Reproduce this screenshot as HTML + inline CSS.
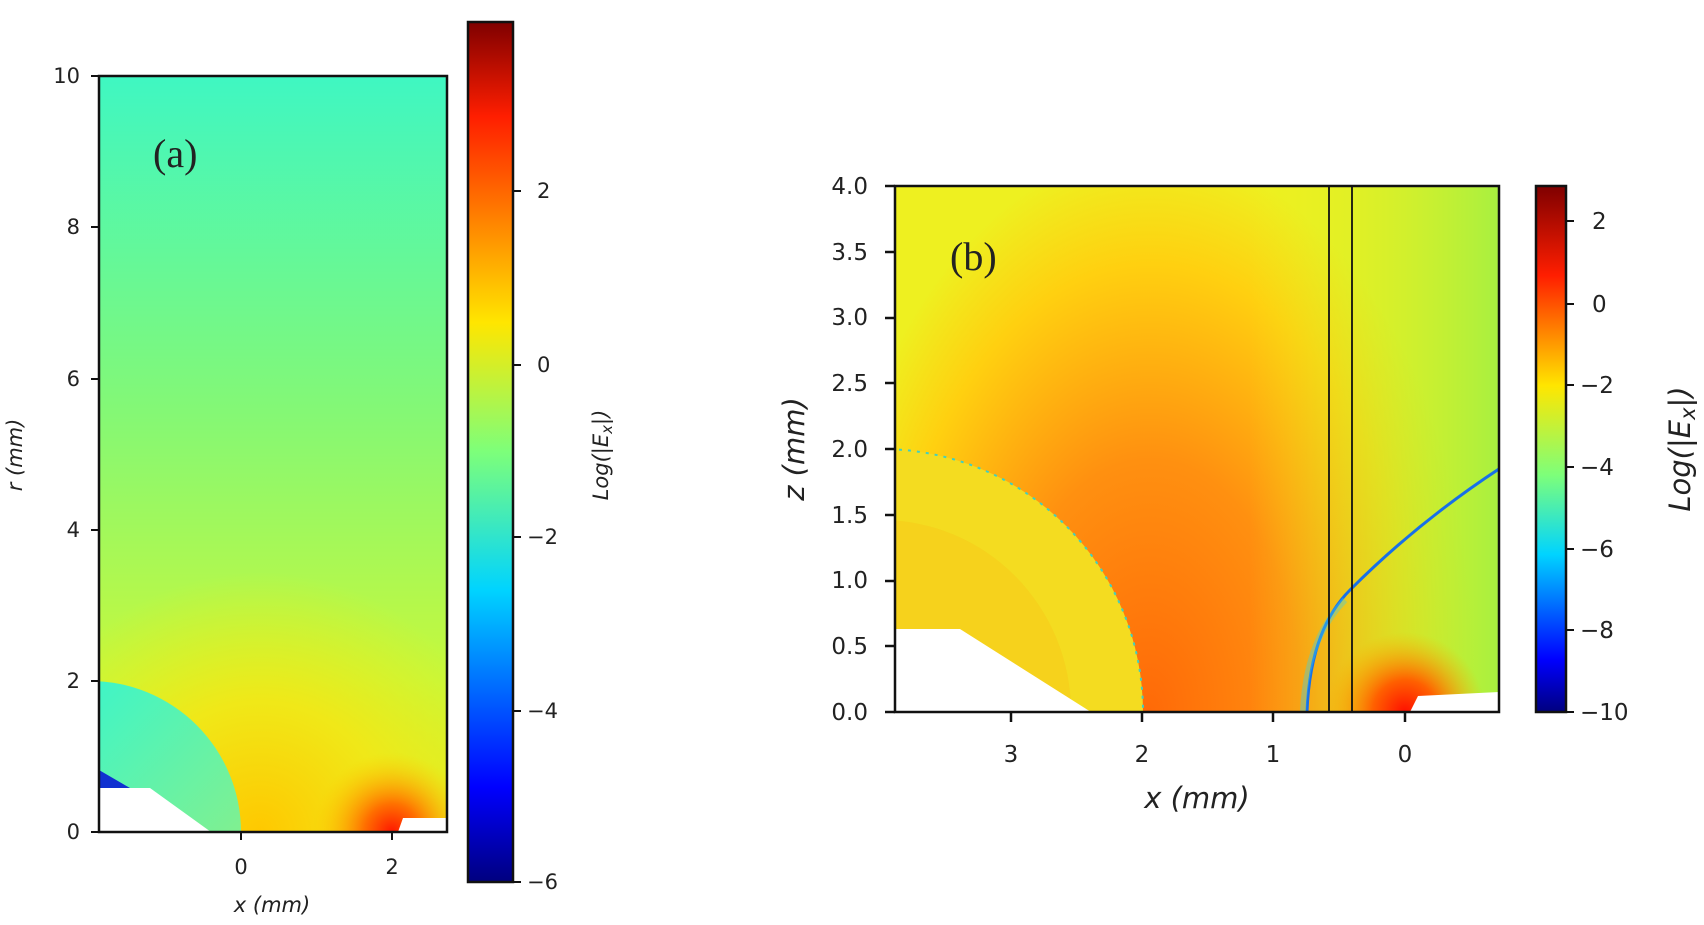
<!DOCTYPE html>
<html><head><meta charset="utf-8"><style>
body{margin:0;background:#fff}
svg text{font-family:"DejaVu Sans","Liberation Sans",sans-serif;fill:#222}
</style></head><body>
<svg width="1704" height="920" viewBox="0 0 1704 920" xmlns="http://www.w3.org/2000/svg">
<defs>
<linearGradient id="jetA" x1="0" y1="1" x2="0" y2="0">
<stop offset="0" stop-color="#00007f"/><stop offset="0.11" stop-color="#0000ff"/><stop offset="0.34" stop-color="#00d4ff"/><stop offset="0.5" stop-color="#7dff7a"/><stop offset="0.65" stop-color="#ffe600"/><stop offset="0.89" stop-color="#ff1e00"/><stop offset="1" stop-color="#7f0000"/>
</linearGradient>
<linearGradient id="bgA" x1="0" y1="0" x2="0" y2="1">
<stop offset="0" stop-color="#3ff7c2"/><stop offset="0.45" stop-color="#85f874"/><stop offset="0.8" stop-color="#c8f83a"/><stop offset="1" stop-color="#f0e818"/>
</linearGradient>
<radialGradient id="redA" cx="392" cy="832" r="80" gradientUnits="userSpaceOnUse">
<stop offset="0" stop-color="#ff1800"/><stop offset="0.35" stop-color="#ff7000"/><stop offset="1" stop-color="#ffd000" stop-opacity="0"/>
</radialGradient>
<radialGradient id="yelA" cx="260" cy="832" r="260" gradientUnits="userSpaceOnUse">
<stop offset="0" stop-color="#ffc800"/><stop offset="0.5" stop-color="#f0e818"/><stop offset="1" stop-color="#e0f020" stop-opacity="0"/>
</radialGradient>
<linearGradient id="qA" x1="0" y1="0" x2="1" y2="1">
<stop offset="0" stop-color="#3ef5c8"/><stop offset="1" stop-color="#80f090"/>
</linearGradient>
<radialGradient id="bgB" cx="1150" cy="712" r="560" gradientTransform="translate(1150 712) scale(0.6 1) translate(-1150 -712)" gradientUnits="userSpaceOnUse">
<stop offset="0" stop-color="#ff6a08"/><stop offset="0.45" stop-color="#ff9010"/><stop offset="0.8" stop-color="#ffd010"/><stop offset="1" stop-color="#eef020"/>
</radialGradient>
<linearGradient id="rightB" x1="0" y1="0" x2="1" y2="0">
<stop offset="0" stop-color="#e8f020" stop-opacity="0"/><stop offset="1" stop-color="#a8f040"/>
</linearGradient>
<radialGradient id="redB" cx="1405" cy="712" r="80" gradientUnits="userSpaceOnUse">
<stop offset="0" stop-color="#ff1000"/><stop offset="0.4" stop-color="#ff6000"/><stop offset="1" stop-color="#ffb000" stop-opacity="0"/>
</radialGradient>
<linearGradient id="jetB" x1="0" y1="1" x2="0" y2="0">
<stop offset="0" stop-color="#00007f"/><stop offset="0.1" stop-color="#0000ff"/><stop offset="0.3" stop-color="#00d4ff"/><stop offset="0.45" stop-color="#7dff7a"/><stop offset="0.62" stop-color="#ffe600"/><stop offset="0.83" stop-color="#ff1e00"/><stop offset="1" stop-color="#7f0000"/>
</linearGradient>
<clipPath id="cA"><rect x="99" y="76" width="348" height="756"/></clipPath>
<clipPath id="cB"><rect x="895" y="186" width="604" height="526"/></clipPath>
</defs>

<!-- Panel A -->
<g clip-path="url(#cA)">
<rect x="99" y="76" width="348" height="756" fill="url(#bgA)"/>
<rect x="99" y="500" width="348" height="332" fill="url(#yelA)"/>
<rect x="99" y="700" width="348" height="132" fill="url(#redA)"/>
<path d="M90,832 L90,681 A151,151 0 0 1 241,832 Z" fill="url(#qA)"/>
<path d="M99,770 L130,788 L99,788 Z" fill="#1030d0"/>
<path d="M99,788 L150,788 L211,832 L99,832 Z" fill="#fff"/>
<path d="M398,832 L403,818 L447,818 L447,832 Z" fill="#fff"/>
</g>
<rect x="99" y="76" width="348" height="756" fill="none" stroke="#111" stroke-width="2.5"/>
<text x="153" y="167" style="font-family:'Liberation Serif',serif" font-size="40">(a)</text>
<g font-size="21" text-anchor="end">
<text x="80" y="83">10</text><text x="80" y="234">8</text><text x="80" y="386">6</text><text x="80" y="537">4</text><text x="80" y="688">2</text><text x="80" y="839">0</text>
</g>
<g stroke="#111" stroke-width="2">
<line x1="91" y1="76" x2="99" y2="76"/><line x1="91" y1="227" x2="99" y2="227"/><line x1="91" y1="379" x2="99" y2="379"/><line x1="91" y1="530" x2="99" y2="530"/><line x1="91" y1="681" x2="99" y2="681"/><line x1="91" y1="832" x2="99" y2="832"/>
<line x1="241" y1="832" x2="241" y2="840"/><line x1="392" y1="832" x2="392" y2="840"/>
</g>
<text x="241" y="874" font-size="21" text-anchor="middle">0</text>
<text x="392" y="874" font-size="21" text-anchor="middle">2</text>
<text x="272" y="912" font-size="21" text-anchor="middle" font-style="italic">x (mm)</text>
<text transform="translate(22,455) rotate(-90)" font-size="21" text-anchor="middle" font-style="italic">r (mm)</text>
<rect x="468" y="22" width="45" height="860" fill="url(#jetA)" stroke="#111" stroke-width="2.5"/>
<g stroke="#111" stroke-width="2"><line x1="513" y1="191" x2="521" y2="191"/><line x1="513" y1="365" x2="521" y2="365"/><line x1="513" y1="537" x2="521" y2="537"/><line x1="513" y1="711" x2="521" y2="711"/><line x1="513" y1="882" x2="521" y2="882"/></g>
<g font-size="21"><text x="537" y="198">2</text><text x="537" y="372">0</text><text x="527" y="544">−2</text><text x="527" y="718">−4</text><text x="527" y="889">−6</text></g>
<text transform="translate(608,455) rotate(-90)" font-size="21" text-anchor="middle" font-style="italic">Log(|E<tspan font-size="15" dy="4">x</tspan><tspan dy="-4">|)</tspan></text>

<!-- Panel B -->
<g clip-path="url(#cB)">
<rect x="895" y="186" width="604" height="526" fill="url(#bgB)"/>
<rect x="1250" y="186" width="249" height="526" fill="url(#rightB)"/>
<rect x="1320" y="630" width="179" height="82" fill="url(#redB)"/>
<path d="M881,712 L881,449 A262,263 0 0 1 1143,712 Z" fill="#f4dc20"/>
<path d="M881,712 L881,520 A190,192 0 0 1 1071,712 Z" fill="#f8c818" opacity="0.5"/>
<path d="M881,449 A262,263 0 0 1 1143,712" fill="none" stroke="#40d0c0" stroke-width="2" stroke-dasharray="3 6"/>
<path d="M1307,712 Q1310,630 1350,590 Q1420,520 1505,465" fill="none" stroke="#1870e8" stroke-width="3"/>
<path d="M1303,712 Q1306,640 1345,600" fill="none" stroke="#40d0e0" stroke-width="6" opacity="0.4"/>
<path d="M895,652 Q910,655 915,678" fill="none" stroke="#2080e0" stroke-width="3"/>
<path d="M895,629 L960,629 L1091,712 L895,712 Z" fill="#fff"/>
<path d="M1410,712 L1418,696 L1499,692 L1499,712 Z" fill="#fff"/>
<line x1="1329" y1="186" x2="1329" y2="712" stroke="#111" stroke-width="1.8"/>
<line x1="1352" y1="186" x2="1352" y2="712" stroke="#111" stroke-width="1.8"/>
</g>
<rect x="895" y="186" width="604" height="526" fill="none" stroke="#111" stroke-width="2.5"/>
<text x="950" y="270" style="font-family:'Liberation Serif',serif" font-size="40">(b)</text>
<g font-size="23" text-anchor="end">
<text x="868" y="194">4.0</text><text x="868" y="260">3.5</text><text x="868" y="325">3.0</text><text x="868" y="391">2.5</text><text x="868" y="457">2.0</text><text x="868" y="523">1.5</text><text x="868" y="588">1.0</text><text x="868" y="654">0.5</text><text x="868" y="720">0.0</text>
</g>
<g stroke="#111" stroke-width="2.5">
<line x1="885" y1="186" x2="895" y2="186"/><line x1="885" y1="252" x2="895" y2="252"/><line x1="885" y1="318" x2="895" y2="318"/><line x1="885" y1="383" x2="895" y2="383"/><line x1="885" y1="449" x2="895" y2="449"/><line x1="885" y1="515" x2="895" y2="515"/><line x1="885" y1="581" x2="895" y2="581"/><line x1="885" y1="646" x2="895" y2="646"/><line x1="885" y1="712" x2="895" y2="712"/>
<line x1="1011" y1="712" x2="1011" y2="722"/><line x1="1142" y1="712" x2="1142" y2="722"/><line x1="1273" y1="712" x2="1273" y2="722"/><line x1="1405" y1="712" x2="1405" y2="722"/>
</g>
<g font-size="23" text-anchor="middle"><text x="1011" y="762">3</text><text x="1142" y="762">2</text><text x="1273" y="762">1</text><text x="1405" y="762">0</text></g>
<text x="1197" y="808" font-size="29" text-anchor="middle" font-style="italic">x (mm)</text>
<text transform="translate(804,449) rotate(-90)" font-size="29" text-anchor="middle" font-style="italic">z (mm)</text>
<rect x="1536" y="186" width="30" height="526" fill="url(#jetB)" stroke="#111" stroke-width="2.5"/>
<g stroke="#111" stroke-width="2"><line x1="1566" y1="221" x2="1574" y2="221"/><line x1="1566" y1="304" x2="1574" y2="304"/><line x1="1566" y1="385" x2="1574" y2="385"/><line x1="1566" y1="467" x2="1574" y2="467"/><line x1="1566" y1="549" x2="1574" y2="549"/><line x1="1566" y1="630" x2="1574" y2="630"/><line x1="1566" y1="712" x2="1574" y2="712"/></g>
<g font-size="23"><text x="1592" y="229">2</text><text x="1592" y="312">0</text><text x="1580" y="393">−2</text><text x="1580" y="475">−4</text><text x="1580" y="557">−6</text><text x="1580" y="638">−8</text><text x="1580" y="720">−10</text></g>
<text transform="translate(1690,449) rotate(-90)" font-size="29" text-anchor="middle" font-style="italic">Log(|E<tspan font-size="21" dy="5">x</tspan><tspan dy="-5">|)</tspan></text>
</svg>
</body></html>
